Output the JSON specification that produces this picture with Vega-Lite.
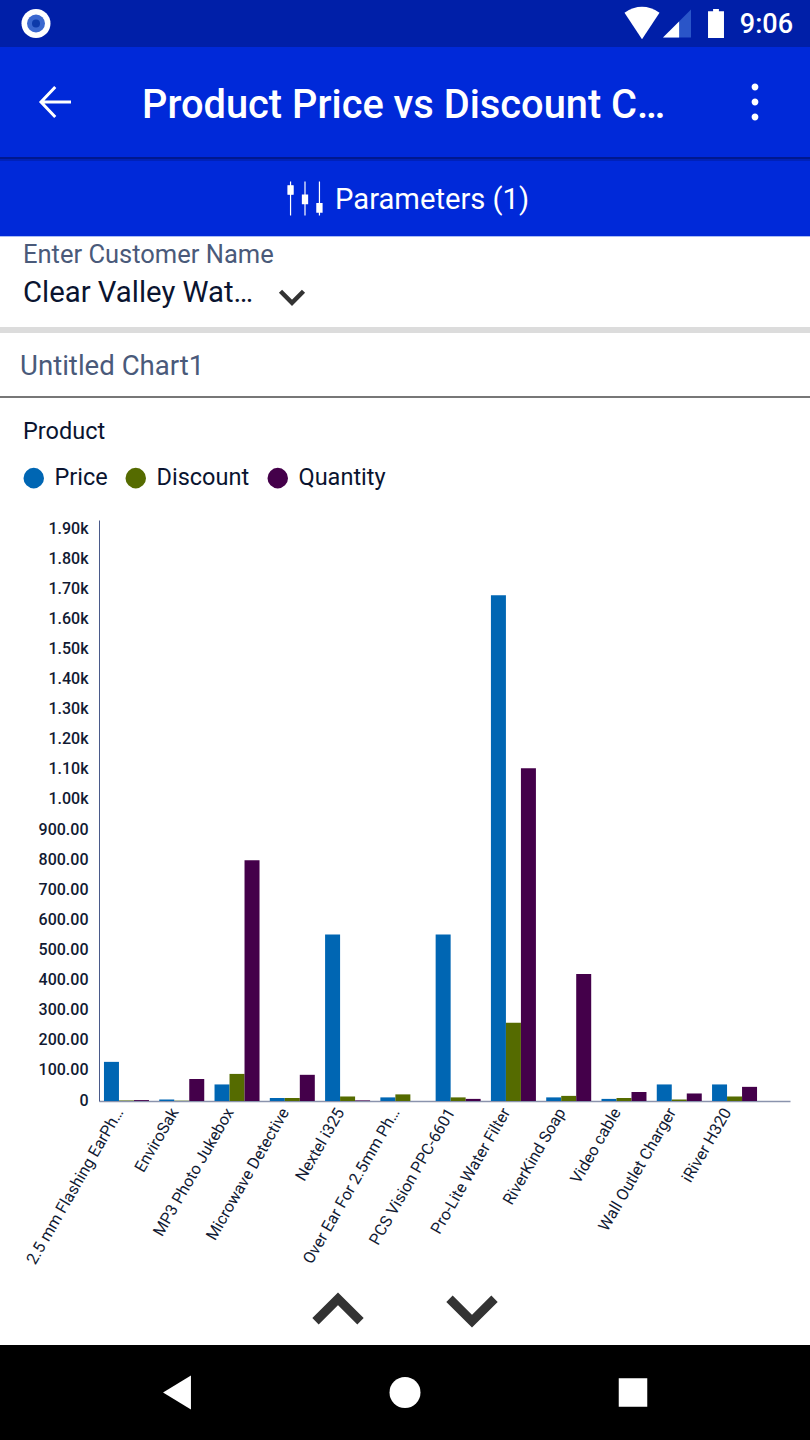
{"$schema":"https://vega.github.io/schema/vega-lite/v6.json",
"padding":0,"spacing":0,"bounds":"flush","background":"white",
"resolve":{"scale":{"shape":"independent"}},
"config":{"view":{"stroke":null},"font":"Roboto"},
"datasets":{"sales":[
{"product":"2.5 mm Flashing EarPh…","series":"Price","value":130},{"product":"2.5 mm Flashing EarPh…","series":"Discount","value":2},{"product":"2.5 mm Flashing EarPh…","series":"Quantity","value":3},
{"product":"EnviroSak","series":"Price","value":5},{"product":"EnviroSak","series":"Discount","value":1},{"product":"EnviroSak","series":"Quantity","value":73},
{"product":"MP3 Photo Jukebox","series":"Price","value":55},{"product":"MP3 Photo Jukebox","series":"Discount","value":90},{"product":"MP3 Photo Jukebox","series":"Quantity","value":800},
{"product":"Microwave Detective","series":"Price","value":10},{"product":"Microwave Detective","series":"Discount","value":10},{"product":"Microwave Detective","series":"Quantity","value":87},
{"product":"Nextel i325","series":"Price","value":553},{"product":"Nextel i325","series":"Discount","value":15},{"product":"Nextel i325","series":"Quantity","value":2},
{"product":"Over Ear For 2.5mm Ph…","series":"Price","value":12},{"product":"Over Ear For 2.5mm Ph…","series":"Discount","value":22},{"product":"Over Ear For 2.5mm Ph…","series":"Quantity","value":0},
{"product":"PCS Vision PPC-6601","series":"Price","value":553},{"product":"PCS Vision PPC-6601","series":"Discount","value":12},{"product":"PCS Vision PPC-6601","series":"Quantity","value":7},
{"product":"Pro-Lite Water Filter","series":"Price","value":1680},{"product":"Pro-Lite Water Filter","series":"Discount","value":260},{"product":"Pro-Lite Water Filter","series":"Quantity","value":1105},
{"product":"RiverKind Soap","series":"Price","value":12},{"product":"RiverKind Soap","series":"Discount","value":17},{"product":"RiverKind Soap","series":"Quantity","value":422},
{"product":"Video cable","series":"Price","value":7},{"product":"Video cable","series":"Discount","value":10},{"product":"Video cable","series":"Quantity","value":30},
{"product":"Wall Outlet Charger","series":"Price","value":55},{"product":"Wall Outlet Charger","series":"Discount","value":5},{"product":"Wall Outlet Charger","series":"Quantity","value":25},
{"product":"iRiver H320","series":"Price","value":55},{"product":"iRiver H320","series":"Discount","value":15},{"product":"iRiver H320","series":"Quantity","value":47}
]},
"vconcat":[
{"width":810,"height":47,"view":{"fill":"#001fa8"},"resolve":{"scale":{"x":"independent"}},"layer":[
 {"data":{"values":[{"k":"ring"}]},"mark":{"type":"point","shape":"circle","filled":true,"opacity":1,"color":"white","size":841},"encoding":{"x":{"field":"k","type":"nominal","axis":null,"scale":{"range":[36,36]}}}},
 {"data":{"values":[{"k":"disc"}]},"mark":{"type":"point","shape":"circle","filled":true,"opacity":1,"color":"#3b68cf","size":324},"encoding":{"x":{"field":"k","type":"nominal","axis":null,"scale":{"range":[36,36]}}}},
 {"data":{"values":[{"k":"dot"}]},"mark":{"type":"point","shape":"circle","filled":true,"opacity":1,"color":"#0d3aaa","size":64},"encoding":{"x":{"field":"k","type":"nominal","axis":null,"scale":{"range":[36,36]}}}},
 {"data":{"values":[{"k":"wifi"}]},"mark":{"type":"point","shape":"M-1,-0.62Q0,-1.3 1,-0.62L0,0.9Z","filled":true,"opacity":1,"color":"white","size":1225},"encoding":{"x":{"field":"k","type":"nominal","axis":null,"scale":{"range":[642,642]}}}},
 {"data":{"values":[{"k":"signal"}]},"mark":{"type":"point","shape":"M1,-1V1H-1Z","filled":true,"opacity":1,"color":"#2a55c8","size":784},"encoding":{"x":{"field":"k","type":"nominal","axis":null,"scale":{"range":[677,677]}}}},
 {"data":{"values":[{"k":"signal2"}]},"mark":{"type":"point","shape":"M0.15,-0.15V1H-1Z","filled":true,"opacity":1,"color":"white","size":784},"encoding":{"x":{"field":"k","type":"nominal","axis":null,"scale":{"range":[677,677]}}}},
 {"data":{"values":[{"k":"battery"}]},"mark":{"type":"point","shape":"M-0.55,-0.85H-0.2V-1H0.2V-0.85H0.55V1H-0.55Z","filled":true,"opacity":1,"color":"white","size":841},"encoding":{"x":{"field":"k","type":"nominal","axis":null,"scale":{"range":[716,716]}}}},
 {"data":{"values":[{"label":"9:06"}]},"mark":{"type":"text","font":"Roboto","fontSize":27,"fontWeight":500,"color":"white","align":"right","dy":1},"encoding":{"text":{"field":"label"},"x":{"field":"label","type":"nominal","axis":null,"scale":{"range":[793,793]}}}}
]},
{"width":810,"height":110,"view":{"fill":"#0029d9"},"resolve":{"scale":{"x":"independent"}},"layer":[
 {"data":{"values":[{"k":"back"}]},"mark":{"type":"point","shape":"M1,0H-1M-0.05,-1L-1,0L-0.05,1","filled":false,"opacity":1,"color":"white","strokeWidth":3,"size":900},"encoding":{"x":{"field":"k","type":"nominal","axis":null,"scale":{"range":[56,56]}}}},
 {"data":{"values":[{"label":"Product Price vs Discount C…"}]},"mark":{"type":"text","font":"Roboto","fontSize":39.8,"fontWeight":500,"color":"white","align":"left","dy":4},"encoding":{"text":{"field":"label"},"x":{"field":"label","type":"nominal","axis":null,"scale":{"range":[142,142]}}}},
 {"data":{"values":[{"k":"more"}]},"mark":{"type":"point","shape":"M-0.17,-0.75a0.17,0.17 0 1,0 0.34,0a0.17,0.17 0 1,0 -0.34,0ZM-0.17,0a0.17,0.17 0 1,0 0.34,0a0.17,0.17 0 1,0 -0.34,0ZM-0.17,0.75a0.17,0.17 0 1,0 0.34,0a0.17,0.17 0 1,0 -0.34,0Z","filled":true,"opacity":1,"color":"white","size":1600},"encoding":{"x":{"field":"k","type":"nominal","axis":null,"scale":{"range":[755,755]}}}}
]},
{"width":810,"height":2,"view":{"fill":"#00188f"},"data":{"values":[]},"mark":"text"},
{"width":810,"height":2,"view":{"fill":"#0021b8"},"data":{"values":[]},"mark":"text"},
{"width":810,"height":75,"view":{"fill":"#0029d9"},"resolve":{"scale":{"x":"independent"}},"layer":[
 {"data":{"values":[{"k":"sliders"}]},"mark":{"type":"point","shape":"M-0.85,-1V1M0,-1V1M0.85,-1V1M-1,-0.75H-0.7V-0.25H-1ZM-0.15,-0.2H0.15V0.3H-0.15ZM0.7,0.3H1V0.8H0.7Z","filled":true,"opacity":1,"fill":"white","stroke":"white","strokeWidth":1.2,"size":1156},"encoding":{"x":{"field":"k","type":"nominal","axis":null,"scale":{"range":[305,305]}}}},
 {"data":{"values":[{"label":"Parameters (1)"}]},"mark":{"type":"text","font":"Roboto","fontSize":29.2,"color":"white","align":"left","dy":1},"encoding":{"text":{"field":"label"},"x":{"field":"label","type":"nominal","axis":null,"scale":{"range":[335,335]}}}}
]},
{"width":810,"height":1,"view":{"fill":"#a9bdf5"},"data":{"values":[]},"mark":"text"},
{"width":810,"height":36,"data":{"values":[{"label":"Enter Customer Name"}]},"mark":{"type":"text","font":"Roboto","fontSize":25.5,"color":"#4a5a7a","align":"left"},"encoding":{"text":{"field":"label"},"x":{"field":"label","type":"nominal","axis":null,"scale":{"range":[23,23]}}}},
{"width":810,"height":38,"resolve":{"scale":{"x":"independent"}},"layer":[
 {"data":{"values":[{"label":"Clear Valley Wat…"}]},"mark":{"type":"text","font":"Roboto","fontSize":29.3,"color":"#0a1430","align":"left","dy":1},"encoding":{"text":{"field":"label"},"x":{"field":"label","type":"nominal","axis":null,"scale":{"range":[23,23]}}}},
 {"data":{"values":[{"k":"open"}]},"mark":{"type":"point","shape":"M-1,-0.5L0,0.5L1,-0.5","filled":false,"opacity":1,"color":"#333333","strokeWidth":4.5,"size":529,"yOffset":5},"encoding":{"x":{"field":"k","type":"nominal","axis":null,"scale":{"range":[292,292]}}}}
]},
{"width":810,"height":16,"data":{"values":[]},"mark":"text"},
{"width":810,"height":6,"view":{"fill":"#dcdcdc"},"data":{"values":[]},"mark":"text"},
{"width":810,"height":63,"data":{"values":[{"label":"Untitled Chart1"}]},"mark":{"type":"text","font":"Roboto","fontSize":27.6,"color":"#4a5a7a","align":"left","dy":2},"encoding":{"text":{"field":"label"},"x":{"field":"label","type":"nominal","axis":null,"scale":{"range":[20,20]}}}},
{"width":810,"height":2,"view":{"fill":"#777777"},"data":{"values":[]},"mark":"text"},
{"width":810,"height":67,"data":{"values":[{"label":"Product"}]},"mark":{"type":"text","font":"Roboto","fontSize":23.5,"color":"#0a1430","align":"left"},"encoding":{"text":{"field":"label"},"x":{"field":"label","type":"nominal","axis":null,"scale":{"range":[23,23]}}}},
{"width":810,"height":810,"data":{"name":"sales"},"mark":{"type":"bar"},
 "encoding":{
  "x":{"field":"product","type":"nominal","sort":null,"scale":{"range":[99,790],"paddingInner":0.186,"paddingOuter":0.343,"align":0.131},
   "axis":{"title":null,"offset":-174,"labelAngle":-60,"labelFontSize":16.2,"labelFont":"Roboto","labelColor":"#111a33","labelLimit":400,"labelOverlap":false,"labelPadding":8,"labelOffset":-7,"ticks":false,"domainColor":"#8a93ad","domainWidth":1.5,"grid":false}},
  "xOffset":{"field":"series","type":"nominal","sort":["Price","Discount","Quantity"]},
  "y":{"field":"value","type":"quantitative","scale":{"domain":[0,1930],"range":[636,55],"nice":false},
   "axis":{"title":null,"offset":-99,"grid":false,"ticks":false,"labelFontSize":16,"labelFontWeight":500,"labelFont":"Roboto","labelColor":"#111a33","labelPadding":11,"labelOffset":-1,"labelOverlap":false,"domainColor":"#4a5a8a","domainWidth":1,
    "values":[0,100,200,300,400,500,600,700,800,900,1000,1100,1200,1300,1400,1500,1600,1700,1800,1900],
    "labelExpr":"datum.value == 0 ? '0' : datum.value >= 1000 ? format(datum.value / 1000, '.2f') + 'k' : format(datum.value, '.2f')"}},
  "color":{"field":"series","type":"nominal","sort":["Price","Discount","Quantity"],
   "scale":{"domain":["Price","Discount","Quantity"],"range":["#0066b3","#556b00","#44004a"]},
   "legend":{"title":null,"orient":"none","legendX":22,"legendY":466,"direction":"horizontal","symbolType":"circle","symbolSize":420,"symbolOpacity":1,"symbolStrokeWidth":0,"labelFontSize":23.5,"labelFont":"Roboto","labelColor":"#0a1430","labelOffset":9,"columnPadding":16,"padding":0,"labelLimit":200}}
 }},
{"width":810,"height":70,"data":{"values":[{"dir":"up"},{"dir":"down"}]},"mark":{"type":"point","filled":false,"opacity":1,"color":"#333333","strokeWidth":9,"size":2025},
 "encoding":{"x":{"field":"dir","type":"nominal","sort":null,"axis":null,"scale":{"range":[338,472],"padding":0}},
  "shape":{"field":"dir","type":"nominal","legend":null,"scale":{"domain":["up","down"],"range":["M-1,0.5L0,-0.5L1,0.5","M-1,-0.5L0,0.5L1,-0.5"]}}}},
{"width":810,"height":95,"view":{"fill":"#000000"},"data":{"values":[{"key":"back"},{"key":"home"},{"key":"recent"}]},"mark":{"type":"point","filled":true,"opacity":1,"color":"white","size":961},
 "encoding":{"x":{"field":"key","type":"nominal","sort":null,"axis":null,"scale":{"range":[177,633],"padding":0}},
  "shape":{"field":"key","type":"nominal","legend":null,"scale":{"domain":["back","home","recent"],"range":["M0.9,-1.1V1.1L-0.9,0Z","circle","M-0.92,-0.92H0.92V0.92H-0.92Z"]}}}}
]}
